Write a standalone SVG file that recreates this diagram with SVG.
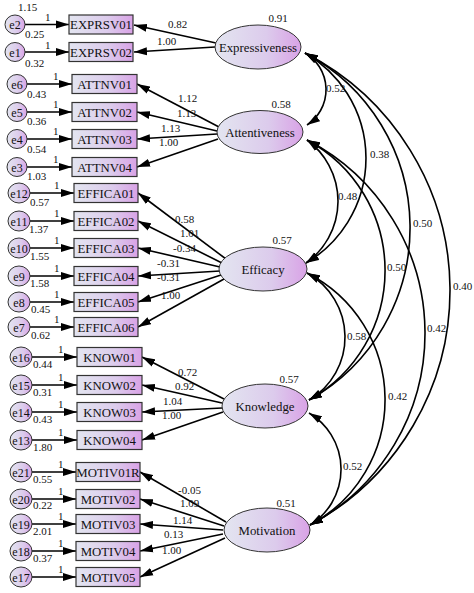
<svg xmlns="http://www.w3.org/2000/svg" width="474" height="593" viewBox="0 0 474 593">
<defs>
<linearGradient id="g" x1="0" y1="0" x2="1" y2="0">
<stop offset="0" stop-color="#e3e5f0"/>
<stop offset="0.6" stop-color="#dccbec"/>
<stop offset="1" stop-color="#d9a2e6"/>
</linearGradient>
<marker id="ah" markerWidth="14" markerHeight="9" refX="13" refY="4.5" orient="auto-start-reverse" markerUnits="userSpaceOnUse">
<path d="M0,0.5 L13,4.5 L0,8.5 z" fill="#000"/>
</marker>
<style>
text{font-family:"Liberation Serif","Times New Roman",serif;fill:#111}
.box{fill:url(#g);stroke:#333;stroke-width:1.2}
.lat{fill:url(#g);stroke:#333;stroke-width:1}
.err{fill:url(#g);stroke:#333;stroke-width:1}
.nm{font-size:12.8px;text-anchor:middle}
.en{font-size:12px;text-anchor:middle}
.num{font-size:11px}
.mid{text-anchor:middle}
.ln{stroke:#000;stroke-width:1.6;fill:none;marker-end:url(#ah)}
.cv{stroke:#000;stroke-width:1.6;fill:none;marker-start:url(#ah);marker-end:url(#ah)}
</style>
</defs>
<rect width="474" height="593" fill="#fff"/>

<g id="connectors">
<line class="ln" x1="25" y1="24.5" x2="69" y2="24.5"/>
<line class="ln" x1="25" y1="52" x2="69" y2="52"/>
<line class="ln" x1="27" y1="84" x2="72" y2="84"/>
<line class="ln" x1="27" y1="112" x2="72" y2="112"/>
<line class="ln" x1="27" y1="139" x2="72" y2="139"/>
<line class="ln" x1="27" y1="167" x2="72" y2="167"/>
<line class="ln" x1="30" y1="193" x2="74" y2="193"/>
<line class="ln" x1="30" y1="221" x2="74" y2="221"/>
<line class="ln" x1="30" y1="248" x2="74" y2="248"/>
<line class="ln" x1="30" y1="276" x2="74" y2="276"/>
<line class="ln" x1="30" y1="302" x2="74" y2="302"/>
<line class="ln" x1="30" y1="327" x2="74" y2="327"/>
<line class="ln" x1="32" y1="357" x2="77" y2="357"/>
<line class="ln" x1="32" y1="385" x2="77" y2="385"/>
<line class="ln" x1="32" y1="412" x2="77" y2="412"/>
<line class="ln" x1="32" y1="440" x2="77" y2="440"/>
<line class="ln" x1="32" y1="472" x2="76" y2="472"/>
<line class="ln" x1="32" y1="499" x2="76" y2="499"/>
<line class="ln" x1="32" y1="524" x2="76" y2="524"/>
<line class="ln" x1="32" y1="551" x2="76" y2="551"/>
<line class="ln" x1="32" y1="577" x2="76" y2="577"/>
<line class="ln" x1="216" y1="43" x2="134" y2="25"/>
<line class="ln" x1="215" y1="47" x2="134" y2="52"/>
<line class="ln" x1="219" y1="127" x2="137" y2="84"/>
<line class="ln" x1="217" y1="131" x2="137" y2="112"/>
<line class="ln" x1="217" y1="134" x2="137" y2="139"/>
<line class="ln" x1="218" y1="139" x2="137" y2="167"/>
<line class="ln" x1="226" y1="259" x2="138" y2="193"/>
<line class="ln" x1="222" y1="263" x2="138" y2="221"/>
<line class="ln" x1="220" y1="267" x2="138" y2="248"/>
<line class="ln" x1="220" y1="271" x2="138" y2="276"/>
<line class="ln" x1="221" y1="275" x2="138" y2="302"/>
<line class="ln" x1="224" y1="279" x2="138" y2="327"/>
<line class="ln" x1="224" y1="399" x2="142" y2="357"/>
<line class="ln" x1="222" y1="403" x2="142" y2="385"/>
<line class="ln" x1="222" y1="408" x2="142" y2="412"/>
<line class="ln" x1="223" y1="412" x2="142" y2="440"/>
<line class="ln" x1="226" y1="522" x2="140" y2="472"/>
<line class="ln" x1="224" y1="526" x2="140" y2="499"/>
<line class="ln" x1="223" y1="530" x2="140" y2="524"/>
<line class="ln" x1="223" y1="534" x2="140" y2="551"/>
<line class="ln" x1="225" y1="538" x2="140" y2="577"/>
<path class="cv" d="M305,53 A42.4,42.4 0 0 1 307,125"/>
<path class="cv" d="M305,53 A121.4,121.4 0 0 1 306,263"/>
<path class="cv" d="M305,53 A197.6,197.6 0 0 1 309,400"/>
<path class="cv" d="M305,53 A266.7,266.7 0 0 1 310,525"/>
<path class="cv" d="M307,140 A75.8,75.8 0 0 1 306,263"/>
<path class="cv" d="M307,140 A148.2,148.2 0 0 1 309,400"/>
<path class="cv" d="M307,140 A217.3,217.3 0 0 1 310,525"/>
<path class="cv" d="M307,273 A73,73 0 0 1 309,400"/>
<path class="cv" d="M307,273 A142,142 0 0 1 310,525"/>
<path class="cv" d="M309,413 A65.5,65.5 0 0 1 310,525"/>
<g class="num">
<text x="45" y="21">1</text><text x="45" y="48.5">1</text>
<text x="53" y="80">1</text><text x="53" y="108">1</text><text x="53" y="135">1</text><text x="53" y="163">1</text>
<text x="54" y="189">1</text><text x="54" y="217">1</text><text x="54" y="244">1</text><text x="54" y="272">1</text><text x="54" y="298">1</text><text x="54" y="323">1</text>
<text x="58" y="353">1</text><text x="58" y="381">1</text><text x="58" y="408">1</text><text x="58" y="436">1</text>
<text x="58" y="468">1</text><text x="58" y="495">1</text><text x="58" y="520">1</text><text x="58" y="547">1</text><text x="58" y="573">1</text>
<text x="168" y="28">0.82</text><text x="157" y="45">1.00</text>
<text x="178" y="102">1.12</text><text x="177" y="117">1.13</text><text x="161" y="132">1.13</text><text x="159" y="146">1.00</text>
<text x="175" y="223">0.58</text><text x="180" y="237">1.01</text><text x="173" y="252">-0.34</text><text x="157" y="267">-0.31</text><text x="157" y="281">-0.31</text><text x="161" y="299">1.00</text>
<text x="178" y="376">0.72</text><text x="175" y="390">0.92</text><text x="163" y="405">1.04</text><text x="162" y="419">1.00</text>
<text x="178" y="494">-0.05</text><text x="180" y="507">1.09</text><text x="173" y="524">1.14</text><text x="164" y="538">0.13</text><text x="162" y="554">1.00</text>
<text x="326" y="92">0.52</text><text x="370" y="158">0.38</text><text x="338" y="200">0.48</text>
<text x="413" y="227">0.50</text><text x="387" y="271">0.50</text><text x="453" y="290">0.40</text>
<text x="347" y="340">0.58</text><text x="427" y="332">0.42</text><text x="388" y="400">0.42</text>
<text x="343" y="470">0.52</text>
</g>
</g>

<g id="e2"><ellipse class="err" cx="15" cy="24.5" rx="10" ry="9.5"/><text class="en" x="15" y="29">e2</text><text class="num" x="18" y="11">1.15</text><text class="num" x="25" y="38">0.25</text></g>
<g id="e1"><ellipse class="err" cx="15" cy="52" rx="10" ry="9.5"/><text class="en" x="15" y="56.5">e1</text><text class="num" x="25" y="67">0.32</text></g>
<g id="e6"><ellipse class="err" cx="17" cy="84" rx="10" ry="9.5"/><text class="en" x="17" y="88.5">e6</text><text class="num" x="27" y="98">0.43</text></g>
<g id="e5"><ellipse class="err" cx="17" cy="112" rx="10" ry="9.5"/><text class="en" x="17" y="116.5">e5</text><text class="num" x="27" y="125">0.36</text></g>
<g id="e4"><ellipse class="err" cx="17" cy="139" rx="10" ry="9.5"/><text class="en" x="17" y="143.5">e4</text><text class="num" x="27" y="153">0.54</text></g>
<g id="e3"><ellipse class="err" cx="17" cy="167" rx="10" ry="9.5"/><text class="en" x="17" y="171.5">e3</text><text class="num" x="27" y="180">1.03</text></g>
<g id="e12"><ellipse class="err" cx="19" cy="193" rx="11" ry="10"/><text class="en" x="19" y="197.5">e12</text><text class="num" x="30" y="206">0.57</text></g>
<g id="e11"><ellipse class="err" cx="19" cy="221" rx="11" ry="10"/><text class="en" x="19" y="225.5">e11</text><text class="num" x="29" y="233">1.37</text></g>
<g id="e10"><ellipse class="err" cx="19" cy="248" rx="11" ry="10"/><text class="en" x="19" y="252.5">e10</text><text class="num" x="30" y="260">1.55</text></g>
<g id="e9"><ellipse class="err" cx="19" cy="276" rx="11" ry="10"/><text class="en" x="19" y="280.5">e9</text><text class="num" x="30" y="287">1.58</text></g>
<g id="e8"><ellipse class="err" cx="19" cy="302" rx="11" ry="10"/><text class="en" x="19" y="306.5">e8</text><text class="num" x="31" y="313">0.45</text></g>
<g id="e7"><ellipse class="err" cx="19" cy="327" rx="11" ry="10"/><text class="en" x="19" y="331.5">e7</text><text class="num" x="31" y="339">0.62</text></g>
<g id="e16"><ellipse class="err" cx="21" cy="357" rx="11" ry="10"/><text class="en" x="21" y="361.5">e16</text><text class="num" x="33" y="368">0.44</text></g>
<g id="e15"><ellipse class="err" cx="21" cy="385" rx="11" ry="10"/><text class="en" x="21" y="389.5">e15</text><text class="num" x="33" y="396">0.31</text></g>
<g id="e14"><ellipse class="err" cx="21" cy="412" rx="11" ry="10"/><text class="en" x="21" y="416.5">e14</text><text class="num" x="33" y="423">0.43</text></g>
<g id="e13"><ellipse class="err" cx="21" cy="440" rx="11" ry="10"/><text class="en" x="21" y="444.5">e13</text><text class="num" x="33" y="451">1.80</text></g>
<g id="e21"><ellipse class="err" cx="21" cy="472" rx="11" ry="10"/><text class="en" x="21" y="476.5">e21</text><text class="num" x="33" y="483">0.55</text></g>
<g id="e20"><ellipse class="err" cx="21" cy="499" rx="11" ry="10"/><text class="en" x="21" y="503.5">e20</text><text class="num" x="33" y="509">0.22</text></g>
<g id="e19"><ellipse class="err" cx="21" cy="524" rx="11" ry="10"/><text class="en" x="21" y="528.5">e19</text><text class="num" x="33" y="535">2.01</text></g>
<g id="e18"><ellipse class="err" cx="21" cy="551" rx="11" ry="10"/><text class="en" x="21" y="555.5">e18</text><text class="num" x="33" y="562">0.37</text></g>
<g id="e17"><ellipse class="err" cx="21" cy="577" rx="11" ry="10"/><text class="en" x="21" y="581.5">e17</text></g>

<g id="EXPRSV01"><rect class="box" x="69" y="15" width="64" height="19"/><text class="nm" x="101" y="29">EXPRSV01</text></g>
<g id="EXPRSV02"><rect class="box" x="69" y="42.5" width="64" height="19"/><text class="nm" x="101" y="56.5">EXPRSV02</text></g>
<g id="ATTNV01"><rect class="box" x="72" y="74.5" width="65" height="19"/><text class="nm" x="104.5" y="88.5">ATTNV01</text></g>
<g id="ATTNV02"><rect class="box" x="72" y="102.5" width="65" height="19"/><text class="nm" x="104.5" y="116.5">ATTNV02</text></g>
<g id="ATTNV03"><rect class="box" x="72" y="129.5" width="65" height="19"/><text class="nm" x="104.5" y="143.5">ATTNV03</text></g>
<g id="ATTNV04"><rect class="box" x="72" y="157.5" width="65" height="19"/><text class="nm" x="104.5" y="171.5">ATTNV04</text></g>
<g id="EFFICA01"><rect class="box" x="74" y="183.5" width="64" height="19"/><text class="nm" x="106" y="197.5">EFFICA01</text></g>
<g id="EFFICA02"><rect class="box" x="74" y="211.5" width="64" height="19"/><text class="nm" x="106" y="225.5">EFFICA02</text></g>
<g id="EFFICA03"><rect class="box" x="74" y="238.5" width="64" height="19"/><text class="nm" x="106" y="252.5">EFFICA03</text></g>
<g id="EFFICA04"><rect class="box" x="74" y="266.5" width="64" height="19"/><text class="nm" x="106" y="280.5">EFFICA04</text></g>
<g id="EFFICA05"><rect class="box" x="74" y="292.5" width="64" height="19"/><text class="nm" x="106" y="306.5">EFFICA05</text></g>
<g id="EFFICA06"><rect class="box" x="74" y="317.5" width="64" height="19"/><text class="nm" x="106" y="331.5">EFFICA06</text></g>
<g id="KNOW01"><rect class="box" x="77" y="347.5" width="65" height="19"/><text class="nm" x="109.5" y="361.5">KNOW01</text></g>
<g id="KNOW02"><rect class="box" x="77" y="375.5" width="65" height="19"/><text class="nm" x="109.5" y="389.5">KNOW02</text></g>
<g id="KNOW03"><rect class="box" x="77" y="402.5" width="65" height="19"/><text class="nm" x="109.5" y="416.5">KNOW03</text></g>
<g id="KNOW04"><rect class="box" x="77" y="430.5" width="65" height="19"/><text class="nm" x="109.5" y="444.5">KNOW04</text></g>
<g id="MOTIV01R"><rect class="box" x="76" y="462.5" width="64" height="19"/><text class="nm" x="108" y="476.5">MOTIV01R</text></g>
<g id="MOTIV02"><rect class="box" x="76" y="489.5" width="64" height="19"/><text class="nm" x="108" y="503.5">MOTIV02</text></g>
<g id="MOTIV03"><rect class="box" x="76" y="514.5" width="64" height="19"/><text class="nm" x="108" y="528.5">MOTIV03</text></g>
<g id="MOTIV04"><rect class="box" x="76" y="541.5" width="64" height="19"/><text class="nm" x="108" y="555.5">MOTIV04</text></g>
<g id="MOTIV05"><rect class="box" x="76" y="567.5" width="64" height="19"/><text class="nm" x="108" y="581.5">MOTIV05</text></g>

<g id="Expressiveness"><ellipse class="lat" cx="258" cy="47" rx="43" ry="22"/><text class="nm" x="258" y="51.5">Expressiveness</text><text class="num mid" x="278" y="22">0.91</text></g>
<g id="Attentiveness"><ellipse class="lat" cx="260" cy="132" rx="43" ry="21.5"/><text class="nm" x="260" y="136.5">Attentiveness</text><text class="num mid" x="281" y="108">0.58</text></g>
<g id="Efficacy"><ellipse class="lat" cx="263" cy="269" rx="44" ry="22"/><text class="nm" x="263" y="273.5">Efficacy</text><text class="num mid" x="282" y="244">0.57</text></g>
<g id="Knowledge"><ellipse class="lat" cx="265" cy="406" rx="43" ry="22"/><text class="nm" x="265" y="410.5">Knowledge</text><text class="num mid" x="289" y="383">0.57</text></g>
<g id="Motivation"><ellipse class="lat" cx="267" cy="530" rx="43" ry="22"/><text class="nm" x="267" y="534.5">Motivation</text><text class="num mid" x="286" y="507">0.51</text></g>
</svg>
